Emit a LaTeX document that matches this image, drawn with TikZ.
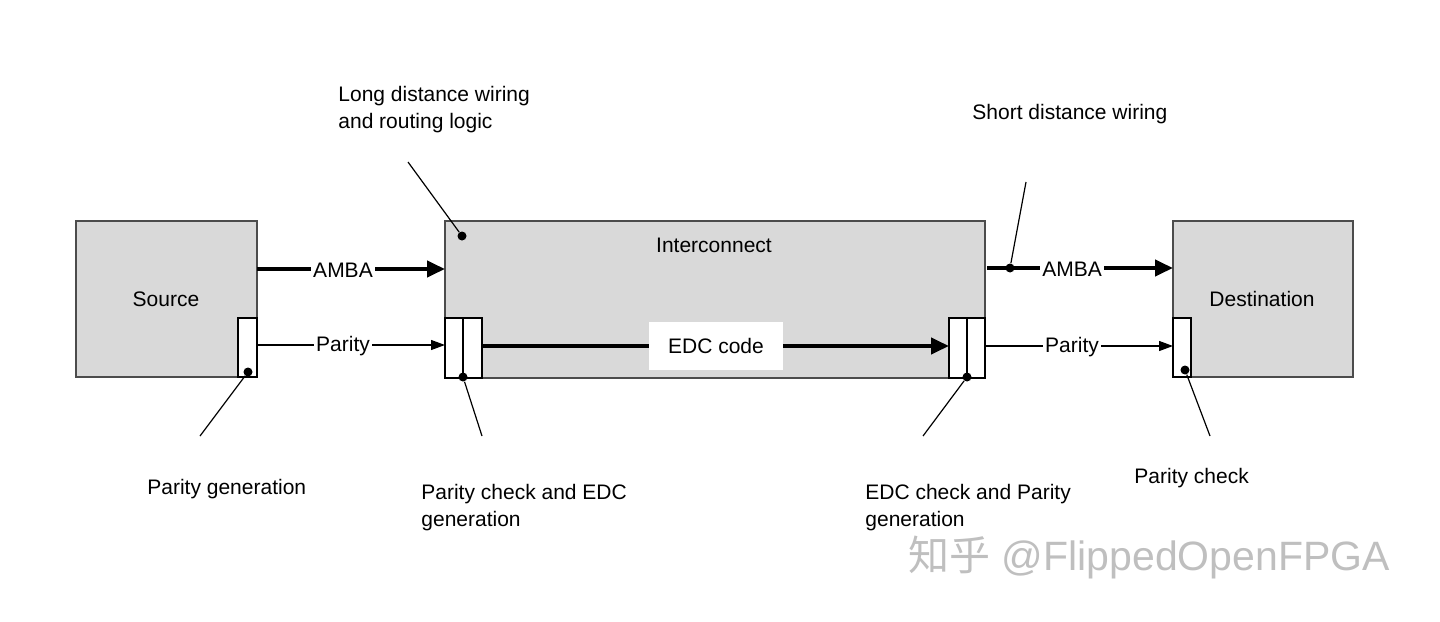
\documentclass[tikz,border=0pt]{standalone}
\usepackage{fontspec}
\setmainfont{Liberation Sans}
\newfontfamily\cjk{Noto Sans CJK SC}
\usetikzlibrary{arrows.meta}
\definecolor{boxgray}{HTML}{D9D9D9}
\begin{document}
\begin{tikzpicture}[x=0.5pt,y=-0.5pt,
  blk/.style={draw=black!70,fill=boxgray,line width=0.6pt},
  sm/.style={draw=black,fill=white,line width=0.6pt},
  thick arr/.style={line width=2pt,-{Triangle[length=9pt,width=8pt]}},
  thin arr/.style={line width=0.6pt,-{Triangle[length=7pt,width=5pt]}},
  lead/.style={line width=0.6pt},
  dot/.style={circle,fill=black,inner sep=0pt,minimum size=4.5pt},
  lbl/.style={font=\fontsize{10.5}{13}\selectfont,inner sep=1pt},
  note/.style={font=\fontsize{10.5}{13.5}\selectfont,align=left,anchor=north west,inner sep=0pt}]
\useasboundingbox (0,0) rectangle (1440,621);
% blocks
\draw[blk] (76,221) rectangle (257,377);
\draw[blk] (445,221) rectangle (985,378);
\draw[blk] (1173,221) rectangle (1353,377);
\node[lbl] (src) at (166,299) {Source};
\node[lbl] (ic) at (714,245) {Interconnect};
\node[lbl] (dst) at (1262,299) {Destination};
% small boxes
\draw[sm] (238,318) rectangle (257,377);
\draw[sm] (445,318) rectangle (482,378); \draw[line width=0.6pt] (463,318) -- (463,378);
\draw[sm] (949,318) rectangle (985,378); \draw[line width=0.6pt] (967,318) -- (967,378);
\draw[sm] (1173,318) rectangle (1191,377);
\coordinate (pg) at (257,345);
\coordinate (pcl) at (445,345);
\coordinate (pcr) at (482,346);
\coordinate (ecl) at (949,346);
\coordinate (ecr) at (985,346);
\coordinate (pc) at (1173,346);
% arrows
\coordinate (a1) at (257,269); \coordinate (a2) at (445,269);
\coordinate (b1) at (987,268); \coordinate (b2) at (1173,268);
\draw[thick arr] (a1) -- (a2);
\draw[thick arr] (b1) -- (b2);
\node[lbl,fill=white] at (343,270) {AMBA};
\node[lbl,fill=white] at (1072,269) {AMBA};
\draw[thin arr] (pg) -- (pcl);
\draw[thin arr] (ecr) -- (pc);
\node[lbl,fill=white] at (343,346) {Parity};
\node[lbl,fill=white] at (1072,347) {Parity};
\draw[thick arr] (pcr) -- (ecl);
\node[fill=white,minimum width=67pt,minimum height=24pt,font=\fontsize{10.5}{13}\selectfont] (edc) at (716,346) {EDC code};
% leaders
\node[dot] (d1) at (462,236) {}; \draw[lead] (408,162) -- (d1);
\node[dot] (d2) at (1010,268) {}; \draw[lead] (1026,182) -- (d2);
\node[dot] (d3) at (248,372) {}; \draw[lead] (200,436) -- (d3);
\node[dot] (d4) at (463,377) {}; \draw[lead] (d4) -- (482,436);
\node[dot] (d5) at (967,377) {}; \draw[lead] (923,436) -- (d5);
\node[dot] (d6) at (1185,370) {}; \draw[lead] (d6) -- (1210,436);
% notes
\node[note] at (338,86) {Long distance wiring\\and routing logic};
\node[note] at (972,104) {Short distance wiring};
\node[note] at (147,479) {Parity generation};
\node[note] at (421,484) {Parity check and EDC\\generation};
\node[note] at (865,484) {EDC check and Parity\\generation};
\node[note] at (1134,468) {Parity check};
\node[anchor=west,text=black!25,font=\fontsize{20.5}{24}\selectfont,inner sep=0pt] at (908,558) {{\cjk 知乎} @FlippedOpenFPGA};
\end{tikzpicture}
\end{document}
